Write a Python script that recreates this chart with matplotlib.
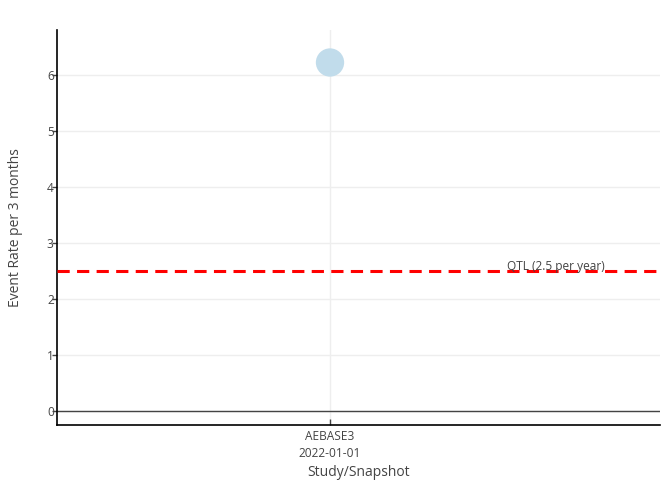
import matplotlib
matplotlib.use("Agg")
import matplotlib.pyplot as plt

# data
studies = ["AEBASE3\n2022-01-01"]
event_rate = [6.22]
qtl_value = 2.5
qtl_label = "QTL (2.5 per year)"

plt.rcParams['font.family'] = ['Open Sans', 'DejaVu Sans']
TXT = '#444444'


def main():
    fig = plt.figure(figsize=(6.62, 4.82), dpi=100)
    # plot area: x 57..660, y 30..425 px
    ax = fig.add_axes([57 / 662, 1 - 425 / 482, 603 / 662, 395 / 482])

    xs = list(range(len(studies)))
    ax.scatter(xs, event_rate, s=28 ** 2 * 0.53, color='#c1dceb', zorder=3,
               edgecolors='none')

    # threshold line
    ax.axhline(qtl_value, color='#ff0000', linestyle=(0, (4, 2.4)), lw=2.2, zorder=4)
    ax.text(0.8275, qtl_value - 0.03, qtl_label, transform=ax.get_yaxis_transform(),
            ha='center', va='bottom', fontsize=8.6, color=TXT, zorder=5)

    ax.axhline(0, color=TXT, lw=1, zorder=2)

    ax.set_xlim(-1, 330 / 273)
    ax.set_ylim(-0.25, 6.80)
    ax.set_yticks(range(0, 7))
    ax.set_xticks(xs)
    ax.set_xticklabels(studies, linespacing=1.45)

    ax.grid(True, color='#eeeeee', lw=1, zorder=0)
    ax.set_axisbelow(True)
    for s in ['top', 'right']:
        ax.spines[s].set_visible(False)
    for s in ['left', 'bottom']:
        ax.spines[s].set_color('#000000')
        ax.spines[s].set_linewidth(1.2)

    ax.tick_params(axis='both', colors=TXT, labelsize=8.6, width=1)
    ax.tick_params(axis='y', direction='out', length=3.5, pad=-1.2)
    ax.tick_params(axis='x', direction='in', length=4, pad=3.4)

    ax.set_xlabel("Study/Snapshot", fontsize=10, color=TXT, va='center')
    ax.xaxis.set_label_coords(0.5, -(473 - 425) / 395)
    ax.set_ylabel("Event Rate per 3 months", fontsize=10, color=TXT, va='center')
    ax.yaxis.set_label_coords(-(57 - 16) / 603, 0.5)

    fig.savefig('out.png', dpi=100)


if __name__ == "__main__":
    main()
